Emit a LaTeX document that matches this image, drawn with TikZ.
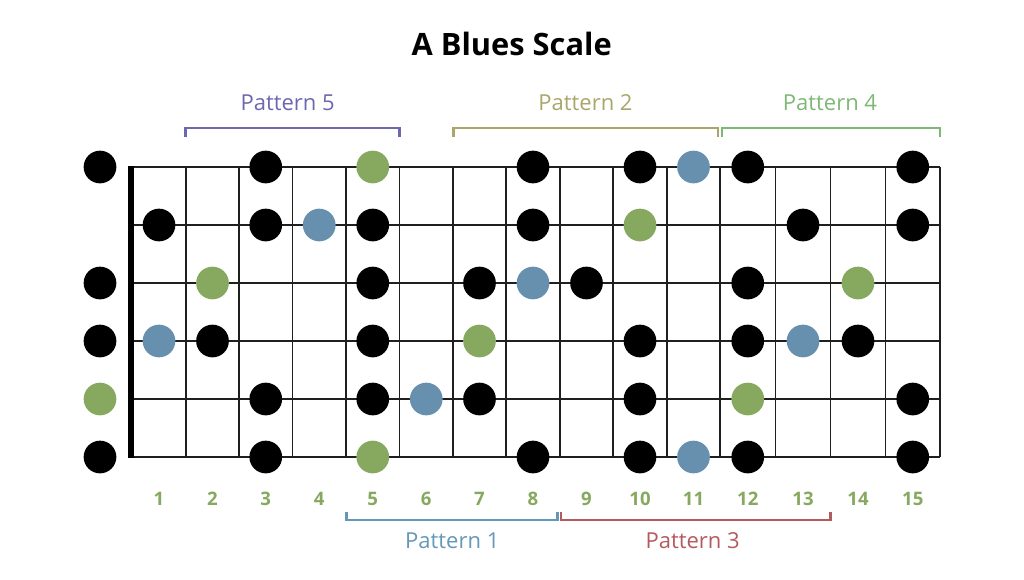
\documentclass[tikz,border=0pt]{standalone}
\usepackage{fontspec}
\setmainfont{Open Sans}
\definecolor{dot-green}{RGB}{134, 169, 95}
\definecolor{dot-blue}{RGB}{102, 144, 174}
\definecolor{pat-one}{RGB}{100, 152, 184}
\definecolor{pat-two}{RGB}{171, 165, 106}
\definecolor{pat-three}{RGB}{180, 90, 94}
\definecolor{pat-four}{RGB}{125, 184, 118}
\definecolor{pat-five}{RGB}{107, 104, 176}

\begin{document}
\begin{tikzpicture}[x=1pt, y=-1pt,
    wire/.style={draw=black!88, line width=1.4pt},
    tone/.style={circle, inner sep=0pt, minimum size=32.7pt, fill=black},
    rootnote/.style={tone, fill=dot-green},
    bluenote/.style={tone, fill=dot-blue},
    fretnum/.style={anchor=base, text=dot-green, font=\bfseries\fontsize{18.6}{22}\selectfont},
    patlabel/.style={anchor=base, font=\fontsize{22}{26}\selectfont},
    bracket/.style={line width=2.5pt, line join=miter}]
\useasboundingbox (0,0) rectangle (1024,579);

\node[anchor=base, font=\bfseries\fontsize{30.8}{36}\selectfont] (title) at (511.7,55.7) {A Blues Scale};

% frets and strings
\foreach \x in {186,239,292.5,346,399.5,453,506,560,613,667,720,775.5,830.5,885.5,940}
    \draw[wire] (\x,167) -- (\x,457);
\foreach \s/\y in {1/167,2/225,3/283,4/341,5/399,6/457} {
    \coordinate (s\s) at (0,\y);
    \draw[wire] (134,\y) -- (940,\y);
}
\fill[black] (127.7,166) rectangle (134,458.3);

% fret numbers
\coordinate (c0) at (100,0);
\foreach \n/\x in {1/159,2/212.5,3/265.75,4/319.25,5/372.75,6/426.25,7/479.5,8/533,9/586.5,10/640,11/693.5,12/747.75,13/803,14/858,15/912.75} {
    \coordinate (c\n) at (\x,0);
    \node[fretnum] (num\n) at (\x,505) {\n};
}

% notes
\foreach \s/\notes in {
    1/{0/tone,3/tone,5/rootnote,8/tone,10/tone,11/bluenote,12/tone,15/tone},
    2/{1/tone,3/tone,4/bluenote,5/tone,8/tone,10/rootnote,13/tone,15/tone},
    3/{0/tone,2/rootnote,5/tone,7/tone,8/bluenote,9/tone,12/tone,14/rootnote},
    4/{0/tone,1/bluenote,2/tone,5/tone,7/rootnote,10/tone,12/tone,13/bluenote,14/tone},
    5/{0/rootnote,3/tone,5/tone,6/bluenote,7/tone,10/tone,12/rootnote,15/tone},
    6/{0/tone,3/tone,5/rootnote,8/tone,10/tone,11/bluenote,12/tone,15/tone}}
    \foreach \f/\kind in \notes
        \node[\kind] (n\s-\f) at (c\f |- s\s) {};

% patterns above
\draw[bracket, pat-five] (185.7,137) -- ++(0,-9) -- (399.3,128) -- ++(0,9);
\node[patlabel, text=pat-five] (pat5) at (287.7,110) {Pattern 5};
\draw[bracket, pat-two] (453.3,137) -- ++(0,-9) -- (717.8,128) -- ++(0,9);
\node[patlabel, text=pat-two] (pat2) at (585.5,110) {Pattern 2};
\draw[bracket, pat-four] (721.8,137) -- ++(0,-9) -- (940,128) -- ++(0,9);
\node[patlabel, text=pat-four] (pat4) at (830,110) {Pattern 4};

% patterns below
\draw[bracket, pat-one] (346.4,511.5) -- ++(0,8.5) -- (557.3,520) -- ++(0,-8.5);
\node[patlabel, text=pat-one] (pat1) at (452.3,548.3) {Pattern 1};
\draw[bracket, pat-three] (560.8,511.5) -- ++(0,8.5) -- (830.7,520) -- ++(0,-8.5);
\node[patlabel, text=pat-three] (pat3) at (692.7,548.3) {Pattern 3};

\end{tikzpicture}
\end{document}
